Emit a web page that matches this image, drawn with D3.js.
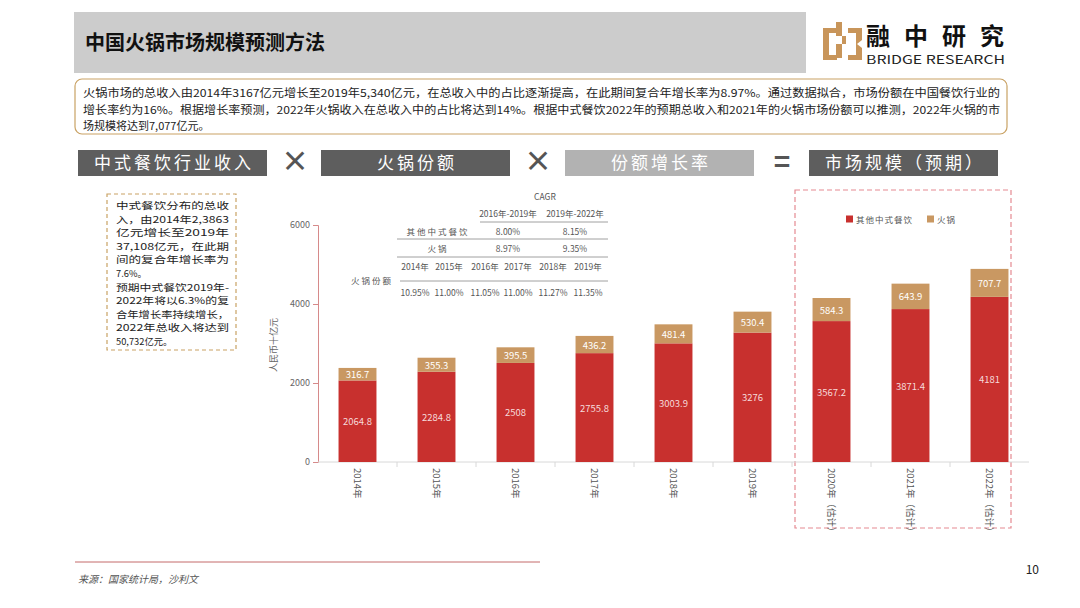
<!DOCTYPE html>
<html>
<head>
<meta charset="utf-8">
<script src="https://cdn.jsdelivr.net/npm/d3@7"></script>
<style>
  body { margin: 0; background: #fff; }
  svg text { font-family: "Noto Sans CJK SC", "Noto Sans", sans-serif; }
</style>
</head>
<body>
<div id="canvas"></div>
<script>
// chart data
var years = ["2014年", "2015年", "2016年", "2017年", "2018年", "2019年", "2020年（估计）", "2021年（估计）", "2022年（估计）"];
var otherFood = [2064.8, 2284.8, 2508, 2755.8, 3003.9, 3276, 3567.2, 3871.4, 4181];
var hotpot = [316.7, 355.3, 395.5, 436.2, 481.4, 530.4, 584.3, 643.9, 707.7];
var seriesNames = ["其他中式餐饮", "火锅"];
var yTicks = [0, 2000, 4000, 6000];

// small table in the chart
var cagrHeads = ["2016年-2019年", "2019年-2022年"];
var cagrOther = ["8.00%", "8.15%"];
var cagrHotpot = ["8.97%", "9.35%"];
var shareYears = ["2014年", "2015年", "2016年", "2017年", "2018年", "2019年"];
var shareVals = ["10.95%", "11.00%", "11.05%", "11.00%", "11.27%", "11.35%"];

var formulaBoxes = ["中式餐饮行业收入", "火锅份额", "份额增长率", "市场规模（预期）"];
var introLines = [
  "火锅市场的总收入由2014年3167亿元增长至2019年5,340亿元，在总收入中的占比逐渐提高，在此期间复合年增长率为8.97%。通过数据拟合，市场份额在中国餐饮行业的",
  "增长率约为16%。根据增长率预测，2022年火锅收入在总收入中的占比将达到14%。根据中式餐饮2022年的预期总收入和2021年的火锅市场份额可以推测，2022年火锅的市",
  "场规模将达到7,077亿元。"
];
var noteLines = [
  "中式餐饮分布的总收", "入，由2014年2,3863", "亿元增长至2019年", "37,108亿元，在此期",
  "间的复合年增长率为", "7.6%。", "预期中式餐饮2019年-", "2022年将以6.3%的复",
  "合年增长率持续增长，", "2022年总收入将达到", "50,732亿元。"
];

var width = 1080, height = 608;
var red = "#c8302e", tan = "#c99862", gold = "#c9a264";

var svg = d3.select("#canvas").append("svg")
  .attr("width", width)
  .attr("height", height);

// ---- header ----
svg.append("rect").attr("x", 74).attr("y", 12).attr("width", 732).attr("height", 61).attr("fill", "#cccccc");
svg.append("text").attr("x", 85).attr("y", 50).attr("font-size", 20).attr("font-weight", "bold")
  .attr("fill", "#111").text("中国火锅市场规模预测方法");

// logo
var logo = svg.append("g").attr("fill", "#c8955a");
logo.append("path").attr("d", "M823,28 h14 v5 h-8 v22 h8 v5 h-14 z");
logo.append("path").attr("d", "M836,22 h6 v14 h-6 z M836,44 h6 v14 h-6 z");
logo.append("path").attr("d", "M842,36 h4 v8 h-4 z");
logo.append("path").attr("d", "M848,28 h14 v12 l-5,4 l5,4 v12 h-14 v-5 h8 v-22 h-8 z");
svg.append("text").attr("x", 866).attr("y", 45).attr("font-size", 24).attr("font-weight", "bold")
  .attr("fill", "#111").attr("textLength", 138).attr("lengthAdjust", "spacing").text("融中研究");
svg.append("text").attr("x", 866).attr("y", 64).attr("font-size", 11.5)
  .attr("fill", "#222").attr("font-family", "Liberation Sans")
  .attr("textLength", 139).attr("lengthAdjust", "spacingAndGlyphs").text("BRIDGE RESEARCH");

// ---- intro box ----
svg.append("rect").attr("x", 75).attr("y", 79).attr("width", 932).attr("height", 55).attr("rx", 7)
  .attr("fill", "#fff").attr("stroke", gold).attr("stroke-width", 1.2);
svg.selectAll("text.intro").data(introLines).enter().append("text")
  .attr("class", "intro")
  .attr("x", 83)
  .attr("y", function(d, i) { return 97 + i * 16.5; })
  .attr("font-size", 11)
  .attr("fill", "#222")
  .attr("textLength", function(d, i) { return i < 2 ? 917 : null; })
  .attr("lengthAdjust", "spacingAndGlyphs")
  .text(function(d) { return d; });

// ---- formula row ----
var boxX = [78, 321, 565, 809];
var boxFill = ["#5e5e5e", "#5e5e5e", "#b2b2b2", "#5e5e5e"];
var fb = svg.selectAll("g.fbox").data(formulaBoxes).enter().append("g").attr("class", "fbox");
fb.append("rect")
  .attr("x", function(d, i) { return boxX[i]; }).attr("y", 150)
  .attr("width", 189).attr("height", 26)
  .attr("fill", function(d, i) { return boxFill[i]; });
fb.append("text")
  .attr("x", function(d, i) { return boxX[i] + 96; }).attr("y", 169)
  .attr("text-anchor", "middle").attr("font-size", 17).attr("fill", "#fff")
  .attr("letter-spacing", 3)
  .text(function(d) { return d; });
var ops = [{x: 295, t: "×"}, {x: 538, t: "×"}, {x: 782, t: "="}];
svg.selectAll("text.op").data(ops).enter().append("text")
  .attr("class", "op")
  .attr("x", function(d) { return d.x; }).attr("y", 172)
  .attr("text-anchor", "middle").attr("font-size", 28).attr("font-weight", "bold")
  .attr("fill", "#555")
  .text(function(d) { return d.t; });

// ---- left note ----
svg.append("rect").attr("x", 107).attr("y", 194).attr("width", 129).attr("height", 156)
  .attr("fill", "none").attr("stroke", gold).attr("stroke-width", 1.2).attr("stroke-dasharray", "4,3");
svg.selectAll("text.note").data(noteLines).enter().append("text")
  .attr("class", "note")
  .attr("x", 116)
  .attr("y", function(d, i) { return 209 + i * 13.6; })
  .attr("font-size", 9.3)
  .attr("fill", "#222")
  .attr("textLength", function(d) { return (d === "7.6%。" || d === "50,732亿元。") ? null : 113; })
  .attr("lengthAdjust", "spacingAndGlyphs")
  .text(function(d) { return d; });

// ---- chart ----
var x = d3.scaleBand().domain(years).range([318, 1029]).paddingInner(0.52).paddingOuter(0.26);
var y = d3.scaleLinear().domain([0, 6000]).range([462, 225]);

// forecast highlight box
svg.append("rect").attr("x", 795).attr("y", 190).attr("width", 216).attr("height", 338)
  .attr("fill", "none").attr("stroke", "#e58a92").attr("stroke-width", 1.2).attr("stroke-dasharray", "5,3");

var yAxis = svg.append("g").attr("transform", "translate(318,0)")
  .call(d3.axisLeft(y).tickValues(yTicks).tickSize(5).tickFormat(d3.format("d")));
yAxis.select(".domain").attr("stroke", "#d68a8a");
yAxis.selectAll(".tick line").attr("stroke", "#d68a8a");
yAxis.selectAll(".tick text").attr("fill", "#666").attr("font-size", 9).attr("font-family", "Liberation Sans");

svg.append("text")
  .attr("transform", "translate(277,345) rotate(-90)")
  .attr("text-anchor", "middle").attr("font-size", 9).attr("fill", "#666")
  .text("人民币十亿元");

// x axis
svg.append("line").attr("x1", 318).attr("x2", 1029).attr("y1", 462).attr("y2", 462)
  .attr("stroke", "#d8d8d8");
var bounds = years.map(function(d) { return x(d) - x.step() * 0.26; });
svg.selectAll("line.xtick").data(bounds.slice(1)).enter().append("line")
  .attr("class", "xtick")
  .attr("x1", function(d) { return d; }).attr("x2", function(d) { return d; })
  .attr("y1", 462).attr("y2", 467).attr("stroke", "#d8d8d8");
svg.selectAll("text.xlab").data(years).enter().append("text")
  .attr("class", "xlab")
  .attr("transform", function(d) { return "translate(" + (x(d) + x.bandwidth() / 2) + ",468) rotate(90)"; })
  .attr("dominant-baseline", "central")
  .attr("font-size", 9.5).attr("fill", "#555")
  .text(function(d) { return d; });

// stacked bars
var rows = years.map(function(d, i) { return {year: d, other: otherFood[i], hotpot: hotpot[i]}; });
var stack = d3.stack().keys(["other", "hotpot"])(rows);
var colors = [red, tan];
var layers = svg.selectAll("g.layer").data(stack).enter().append("g").attr("class", "layer")
  .attr("fill", function(d, i) { return colors[i]; });
layers.selectAll("rect").data(function(d) { return d; }).enter().append("rect")
  .attr("x", function(d) { return x(d.data.year); })
  .attr("width", x.bandwidth())
  .attr("y", function(d) { return y(d[1]); })
  .attr("height", function(d) { return y(d[0]) - y(d[1]); });
layers.selectAll("text").data(function(d, i) { return d.map(function(v) { return {v: v, k: i}; }); })
  .enter().append("text")
  .attr("x", function(d) { return x(d.v.data.year) + x.bandwidth() / 2; })
  .attr("y", function(d) { return (y(d.v[0]) + y(d.v[1])) / 2; })
  .attr("dominant-baseline", "central")
  .attr("text-anchor", "middle").attr("font-size", 9.5)
  .attr("fill", function(d) { return d.k === 0 ? "#f6dada" : "#fff"; })
  .text(function(d) { return d.k === 0 ? d.v.data.other : d.v.data.hotpot; });

// legend
var leg = svg.selectAll("g.legend").data(seriesNames).enter().append("g").attr("class", "legend")
  .attr("transform", function(d, i) { return "translate(" + (846 + i * 81) + ",219)"; });
leg.append("rect").attr("x", 0).attr("y", -3.5).attr("width", 7).attr("height", 7)
  .attr("fill", function(d, i) { return colors[i]; });
leg.append("text").attr("x", 10).attr("y", 0).attr("dominant-baseline", "central")
  .attr("font-size", 8.5).attr("fill", "#555").attr("letter-spacing", 1)
  .text(function(d) { return d; });

// table inside chart
var tbl = svg.append("g").attr("fill", "#555").attr("font-size", 8.5);
var cagrX = [508, 575];
tbl.append("text").attr("x", 545).attr("y", 200).attr("text-anchor", "middle").text("CAGR");
tbl.selectAll("text.ch").data(cagrHeads).enter().append("text").attr("class", "ch")
  .attr("x", function(d, i) { return cagrX[i]; }).attr("y", 217).attr("text-anchor", "middle")
  .text(function(d) { return d; });
tbl.append("text").attr("x", 438).attr("y", 235).attr("text-anchor", "middle").attr("letter-spacing", 2).text("其他中式餐饮");
tbl.selectAll("text.co").data(cagrOther).enter().append("text").attr("class", "co")
  .attr("x", function(d, i) { return cagrX[i]; }).attr("y", 235).attr("text-anchor", "middle")
  .text(function(d) { return d; });
tbl.append("text").attr("x", 438).attr("y", 252).attr("text-anchor", "middle").attr("letter-spacing", 2).text("火锅");
tbl.selectAll("text.ch2").data(cagrHotpot).enter().append("text").attr("class", "ch2")
  .attr("x", function(d, i) { return cagrX[i]; }).attr("y", 252).attr("text-anchor", "middle")
  .text(function(d) { return d; });
var shareX = [415, 449, 485, 518, 553, 588];
tbl.selectAll("text.sy").data(shareYears).enter().append("text").attr("class", "sy")
  .attr("x", function(d, i) { return shareX[i]; }).attr("y", 270).attr("text-anchor", "middle")
  .text(function(d) { return d; });
tbl.selectAll("text.sv").data(shareVals).enter().append("text").attr("class", "sv")
  .attr("x", function(d, i) { return shareX[i]; }).attr("y", 296).attr("text-anchor", "middle")
  .text(function(d) { return d; });
tbl.append("text").attr("x", 372).attr("y", 284).attr("text-anchor", "middle").attr("letter-spacing", 2).text("火锅份额");
var tlines = [{x1: 480, y: 222}, {x1: 397, y: 239}, {x1: 397, y: 257}, {x1: 400, y: 281}];
tbl.selectAll("line").data(tlines).enter().append("line")
  .attr("x1", function(d) { return d.x1; }).attr("x2", 608)
  .attr("y1", function(d) { return d.y; }).attr("y2", function(d) { return d.y; })
  .attr("stroke", "#888").attr("stroke-width", 0.8);

// ---- footer ----
svg.append("line").attr("x1", 75).attr("x2", 540).attr("y1", 562).attr("y2", 562)
  .attr("stroke", "#c46a6a").attr("stroke-width", 1);
svg.append("text").attr("x", 78).attr("y", 583).attr("font-size", 10).attr("font-style", "italic")
  .attr("fill", "#555").text("来源：国家统计局，沙利文");
svg.append("text").attr("x", 1039).attr("y", 574).attr("text-anchor", "end").attr("font-size", 12)
  .attr("font-family", "Liberation Serif").attr("fill", "#222").text("10");
</script>
</body>
</html>
